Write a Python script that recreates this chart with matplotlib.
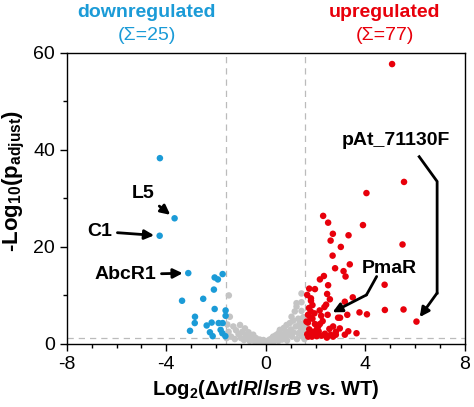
import matplotlib
matplotlib.use("Agg")
import matplotlib.pyplot as plt
from matplotlib.ticker import MultipleLocator

plt.rcParams['font.family'] = ['Liberation Sans', 'DejaVu Sans']
plt.rcParams['mathtext.fontset'] = 'custom'
plt.rcParams['mathtext.rm'] = 'Liberation Sans:bold'
plt.rcParams['mathtext.bf'] = 'Liberation Sans:bold'
plt.rcParams['mathtext.it'] = 'Liberation Sans:bold:italic'

# downregulated sRNAs (25)
down_x = [-4.26, -3.67, -4.27, -3.12, -3.37, -2.52, -2.06, -1.93, -1.74, -2.09,
          -2.06, -1.62, -1.62, -2.85, -2.86, -2.38, -2.18, -1.90, -1.74, -3.05,
          -1.82, -1.75, -2.14, -1.63, -2.25]
down_y = [38.3, 25.9, 22.3, 14.6, 8.9, 9.3, 13.7, 13.3, 14.4, 11.2,
          7.2, 6.9, 5.8, 5.6, 4.3, 3.8, 4.4, 4.3, 4.3, 2.7,
          2.9, 2.2, 1.6, 1.6, 2.4]

# upregulated sRNAs (77)
up_x = [5.07, 5.55, 4.04, 2.30, 2.50, 3.90, 2.69, 3.32, 2.60, 3.01,
        5.49, 2.68, 3.37, 2.78, 3.12, 3.20, 2.33, 2.17, 2.50, 4.77,
        1.74, 1.97, 2.46, 1.66, 3.49, 1.81, 2.57, 3.17, 1.87, 2.42,
        4.78, 5.53, 2.16, 1.80, 2.48, 3.76, 4.06, 3.27, 2.90, 2.98,
        1.69, 2.22, 1.87, 2.28, 6.05, 1.69, 1.97, 2.17, 2.97, 2.81,
        3.31, 3.64, 1.74, 1.87, 2.04, 1.66, 2.04, 2.37, 2.60, 3.17,
        2.81, 1.85, 2.24, 1.81, 2.35, 1.73, 1.95, 1.63, 2.10, 2.55,
        2.70, 1.70, 2.70, 2.45, 1.95, 2.12, 1.78]
up_y = [57.7, 33.4, 31.1, 26.4, 25.0, 24.5, 22.7, 22.4, 21.3, 20.0,
        20.5, 18.2, 16.4, 15.6, 15.0, 13.9, 14.0, 13.3, 12.1, 12.2,
        11.4, 11.3, 10.3, 10.1, 9.6, 8.9, 9.2, 8.7, 8.0, 8.1,
        7.0, 7.1, 6.9, 6.7, 6.0, 6.5, 6.1, 6.0, 5.4, 5.4,
        6.0, 5.8, 5.2, 4.7, 4.6, 4.4, 4.1, 4.1, 3.2, 2.5,
        2.6, 2.2, 3.0, 2.5, 3.0, 2.0, 1.6, 2.1, 1.9, 1.9,
        1.9, 1.5, 1.7, 9.4, 7.6, 7.4, 6.3, 4.6, 3.6, 3.1,
        3.6, 1.5, 1.5, 1.3, 2.0, 2.6, 5.5]

# not significant
ns_x = [-1.49, -1.45, -1.55, -1.50, -1.58, -1.40, -1.31, -1.20, -1.25, -1.10,
        -1.04, -1.00, -0.95, -0.84, -0.88, -0.80, -0.70, -0.72, -0.65, -0.60,
        -0.55, -0.51, -0.45, -0.40, -0.35, -0.30, -0.25, -0.20, -0.15, -0.10,
        -0.05, 0.00, 0.05, 0.10, 0.15, 0.20, 0.25, 0.29, 0.30, 0.35,
        0.40, 0.45, 0.50, 0.50, 0.56, 0.60, 0.65, 0.70, 0.72, 0.75,
        0.80, 0.83, 0.85, 0.90, 0.96, 1.00, 1.03, 1.05, 1.10, 1.10,
        1.16, 1.20, 1.23, 1.23, 1.25, 1.30, 1.30, 1.35, 1.40, 1.43,
        1.43, 1.43, 1.45, 1.50, 1.50, 1.52, 1.55, 1.58]
ns_y = [10.0, 5.6, 4.0, 2.5, 1.2, 1.5, 3.6, 2.8, 1.0, 2.0,
        3.9, 1.2, 2.5, 3.2, 0.8, 1.8, 2.4, 1.1, 0.6, 1.6,
        0.9, 1.9, 0.5, 1.2, 0.7, 0.3, 0.9, 0.5, 0.2, 0.8,
        0.4, 0.1, 0.6, 0.3, 0.9, 0.5, 1.2, 1.5, 0.4, 0.8,
        1.8, 1.0, 0.6, 2.2, 2.9, 1.4, 0.9, 2.0, 3.3, 1.3,
        2.6, 3.9, 0.7, 1.9, 4.3, 3.0, 5.6, 1.5, 2.4, 4.8,
        6.7, 3.6, 8.4, 7.7, 1.0, 5.2, 2.2, 4.2, 3.2, 10.4,
        8.6, 6.8, 1.6, 5.5, 2.8, 4.4, 1.0, 3.6]

blue = '#1b9bd7'
red = '#e8000b'
gray = '#c4c4c4'

fig = plt.figure(figsize=(4.74, 4.07), dpi=100)
ax = fig.add_axes([0.141, 0.155, 0.840, 0.715])

ax.axvline(-1.585, color='#bbbbbb', ls=(0, (5, 4)), lw=0.9, zorder=1)
ax.axvline(1.585, color='#bbbbbb', ls=(0, (5, 4)), lw=0.9, zorder=1)
ax.axhline(1.3, color='#bbbbbb', ls=(0, (5, 4)), lw=0.9, zorder=1)

ax.scatter(ns_x, ns_y, s=22, color=gray, edgecolors='none', zorder=2)
ax.scatter(down_x, down_y, s=22, color=blue, edgecolors='none', zorder=3)
ax.scatter(up_x, up_y, s=22, color=red, edgecolors='none', zorder=3)

ax.set_xlim(-8, 8)
ax.set_ylim(0, 60)
ax.xaxis.set_minor_locator(MultipleLocator(1))
ax.yaxis.set_minor_locator(MultipleLocator(10))
ax.tick_params(which='major', direction='out', length=5, width=1, labelsize=14)
ax.tick_params(which='minor', direction='out', length=3, width=1)
ax.set_xticks([-8, -4, 0, 4, 8])
ax.set_xticklabels(['-8', '-4', '0', '4', '8'])
ax.set_yticks([0, 20, 40, 60])
for sp in ax.spines.values():
    sp.set_linewidth(1)

ax.set_xlabel(r'Log$_{\mathrm{2}}$(Δ$vtlR/lsrB$ vs. WT)', fontsize=14.5,
              fontweight='bold', labelpad=4)
ax.set_ylabel(r'-Log$_{\mathrm{10}}$(p$_{\mathrm{adjust}}$)', fontsize=16,
              fontweight='bold')
ax.yaxis.set_label_coords(-0.1, 0.56)

fig.text(0.31, 0.970, 'downregulated', color=blue, fontsize=14,
         fontweight='bold', ha='center', va='center')
fig.text(0.31, 0.912, '(Σ=25)', color=blue, fontsize=14, ha='center', va='center')
fig.text(0.812, 0.970, 'upregulated', color=red, fontsize=14,
         fontweight='bold', ha='center', va='center')
fig.text(0.812, 0.912, '(Σ=77)', color=red, fontsize=14, ha='center', va='center')

arrow = dict(arrowstyle='-|>', color='black', lw=2, mutation_scale=14,
             shrinkA=2, shrinkB=4)
txt = dict(fontsize=14, fontweight='bold', ha='center', va='center')

ax.annotate('L5', xy=(-3.67, 25.9), xytext=(-4.94, 31.1), arrowprops=arrow, **txt)
ax.annotate('C1', xy=(-4.27, 22.3), xytext=(-6.69, 23.2), arrowprops=arrow, **txt)
ax.annotate('AbcR1', xy=(-3.12, 14.6), xytext=(-5.66, 14.3), arrowprops=arrow, **txt)

ax.text(4.94, 15.6, 'PmaR', **txt)
ax.plot([4.45, 4.04], [13.9, 10.1], color='black', lw=2, solid_capstyle='round')
ax.annotate('', xy=(2.48, 6.0), xytext=(4.04, 10.1),
            arrowprops=dict(arrowstyle='-|>', color='black', lw=2,
                            mutation_scale=14, shrinkA=0, shrinkB=4))

ax.text(5.22, 41.9, 'pAt_71130F', **txt)
ax.plot([6.16, 6.88, 6.88], [38.6, 33.5, 10.5], color='black', lw=2,
        solid_joinstyle='miter')
ax.annotate('', xy=(6.05, 4.6), xytext=(6.88, 10.5),
            arrowprops=dict(arrowstyle='-|>', color='black', lw=2,
                            mutation_scale=14, shrinkA=0, shrinkB=4))

fig.savefig('out.png', dpi=100)
